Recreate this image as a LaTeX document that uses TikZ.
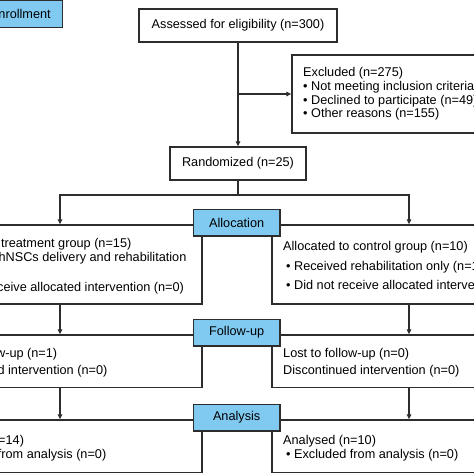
\documentclass[tikz,border=0pt]{standalone}
\usepackage{fontspec}
\setmainfont{Liberation Sans}
\usetikzlibrary{arrows.meta}
\definecolor{lc}{RGB}{45,45,45}
\definecolor{bluef}{RGB}{128,202,242}
\begin{document}
\begin{tikzpicture}[x=1pt,y=-1pt,
  box/.style={draw=lc,line width=1.3pt,inner sep=0pt,fill=white},
  bluebox/.style={box,fill=bluef},
  txt/.style={anchor=base west,inner sep=0pt,text=black},
  arr/.style={draw=lc,line width=1.3pt,-{Triangle[length=5pt,width=4.5pt]}},
  ln/.style={draw=lc,line width=1.3pt},
  font=\fontsize{12.7}{14}\selectfont]
\useasboundingbox (0,0) rectangle (474,474);
\clip (0,0) rectangle (474,474);
% white boxes
\node[box,minimum width=198pt,minimum height=33pt] (assess) at (238,25.5) {Assessed for eligibility (n=300)};
\node[box,minimum width=268pt,minimum height=78pt] (excl) at (426,94) {};
\node[box,minimum width=136pt,minimum height=33pt] (rand) at (238,163.5) {Randomized (n=25)};
\node[box,minimum width=284pt,minimum height=79pt] (treat) at (60,264.5) {};
\node[box,minimum width=274pt,minimum height=79pt] (ctrl) at (409,264.5) {};
\node[box,minimum width=284pt,minimum height=52.3pt] (fuL) at (60,361.15) {};
\node[box,minimum width=274pt,minimum height=52.3pt] (fuR) at (409,361.15) {};
\node[box,minimum width=284pt,minimum height=52.7pt] (anL) at (60,446.35) {};
\node[box,minimum width=274pt,minimum height=52.7pt] (anR) at (409,446.35) {};
% texts
\node[txt] (ex1) at (303,76.2) {Excluded (n=275)};
\node[txt] (ex2) at (303,90.5) {• Not meeting inclusion criteria (n=71)};
\node[txt] (ex3) at (303,104.5) {• Declined to participate (n=49)};
\node[txt] (ex4) at (303,117.8) {• Other reasons (n=155)};
\node[txt] (tr1) at (-69,247.5) {Allocated to treatment group (n=15)};
\node[txt] (tr2) at (-66,261.5) {• Received hNSCs delivery and rehabilitation};
\node[txt] (tr3) at (-66,291.5) {• Did not receive allocated intervention (n=0)};
\node[txt] (co1) at (283,250.5) {Allocated to control group (n=10)};
\node[txt] (co2) at (286,270) {• Received rehabilitation only (n=10)};
\node[txt] (co3) at (286,289.5) {• Did not receive allocated intervention (n=0)};
\node[txt] (fl1) at (-69,357.8) {Lost to follow-up (n=1)};
\node[txt] (fl2) at (-69,374.5) {Discontinued intervention (n=0)};
\node[txt] (fr1) at (283,357.8) {Lost to follow-up (n=0)};
\node[txt] (fr2) at (283,374.5) {Discontinued intervention (n=0)};
\node[txt] (al1) at (-69,444.5) {Analysed (n=14)};
\node[txt] (al2) at (-66,458.5) {• Excluded from analysis (n=0)};
\node[txt] (ar1) at (283,444.5) {Analysed (n=10)};
\node[txt] (ar2) at (286,458.5) {• Excluded from analysis (n=0)};
% connectors
\coordinate (split) at (rand.south |- 0,195);
\draw[arr] (assess.south) -- (rand.north);
\draw[arr] (assess.south |- excl.west) -- (excl.west);
\draw[ln] (rand.south) -- (split);
\draw[arr] (split) -| (treat.north);
\draw[arr] (split) -| (ctrl.north);
\draw[arr] (treat.south) -- (fuL.north);
\draw[arr] (ctrl.south) -- (fuR.north);
\draw[arr] (fuL.south) -- (anL.north);
\draw[arr] (fuR.south) -- (anR.north);
% blue boxes
\node[bluebox,minimum width=84.7pt,minimum height=27.5pt] (enrol) at (20.35,13.8) {Enrollment};
\node[bluebox,minimum width=86.7pt,minimum height=26.7pt] (alloc) at (236.65,222.65) {Allocation};
\node[bluebox,minimum width=86.7pt,minimum height=26.7pt] (fu) at (236.65,332.65) {Follow-up};
\node[bluebox,minimum width=86.7pt,minimum height=26.7pt] (ana) at (236.65,417.65) {Analysis};
\end{tikzpicture}
\end{document}
